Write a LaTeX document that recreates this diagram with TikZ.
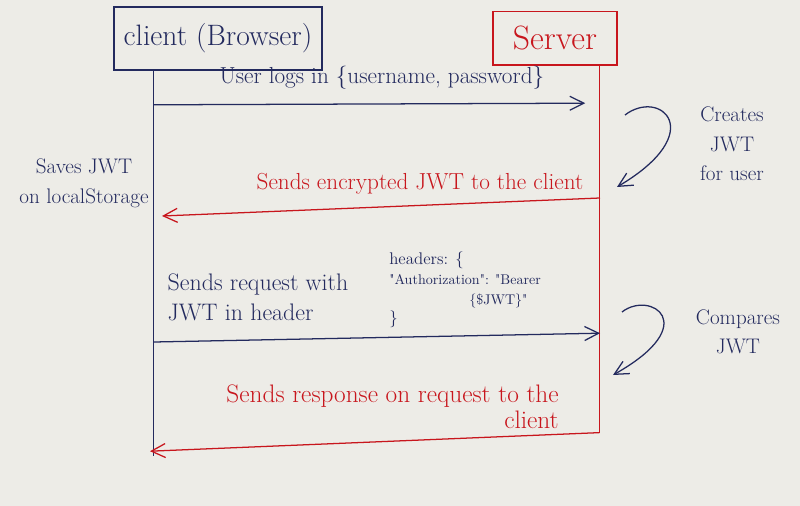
\documentclass[tikz,border=0pt]{standalone}
\usetikzlibrary{arrows.meta}
\definecolor{ink}{HTML}{232A5E}
\definecolor{redInk}{HTML}{C8161D}
\definecolor{paper}{HTML}{EDECE7}
\tikzstyle{actorBox} = [draw, line width=0.9pt, font=\fontsize{21}{25}\selectfont]
\tikzstyle{msgLabel} = [font=\fontsize{16.5}{20}\selectfont]
\tikzstyle{sideNote} = [text=ink, align=center, font=\fontsize{15}{21}\selectfont]
\tikzstyle{curlArrow} = [draw=ink, ->, line width=0.9pt]

\begin{document}
\begin{tikzpicture}[>={Straight Barb[length=3.5mm,width=3.5mm]}, line width=0.9pt]
		\useasboundingbox (0,0) rectangle (20,-12.65);
		\fill[paper] (0,0) rectangle (20,-12.65);

		\node (client) [actorBox, draw=ink, text=ink, minimum width=5.2cm, minimum height=1.575cm] at (5.45,-0.96) {client (Browser)};
		\node (server) [actorBox, draw=redInk, text=redInk, minimum width=3.1cm, minimum height=1.33cm, font=\fontsize{24}{28}\selectfont] at (13.875,-0.96) {Server};

		% Lifelines
		\path (client.south west)+(1.0,0) coordinate (clientTop);
		\path (clientTop)+(0,-9.63) coordinate (clientBottom);
		\path (server.south west)+(2.675,0) coordinate (serverTop);
		\path (serverTop)+(0,-9.175) coordinate (serverBottom);
		\path [draw, ink] (clientTop) -- (clientBottom);
		\path [draw, redInk] (serverTop) -- (serverBottom);

		% Helpers for the message ends
		\coordinate (loginStart) at (3.85,-2.62);
		\coordinate (loginEnd) at (14.63,-2.58);
		\coordinate (jwtStart) at (15.0,-4.95);
		\coordinate (jwtEnd) at (4.05,-5.4);
		\coordinate (reqStart) at (3.85,-8.55);
		\coordinate (reqEnd) at (15.0,-8.33);
		\coordinate (resEnd) at (3.75,-11.28);

		\path [draw, ->, ink] (loginStart) -- (loginEnd);
		\path [draw, ->, redInk] (jwtStart) -- (jwtEnd);
		\path [draw, ->, ink] (reqStart) -- (reqEnd);
		\path [draw, ->, redInk] (serverBottom) -- (resEnd);

		\node (loginLabel) [msgLabel, text=ink] at (9.55,-1.95) {User logs in \{username, password\}};
		\node (jwtLabel) [msgLabel, text=redInk] at (10.5,-4.6) {Sends encrypted JWT to the client};
		\node (reqLabel) [msgLabel, text=ink, align=left, font=\fontsize{17}{21}\selectfont] at (6.45,-7.43) {Sends request with\\JWT in header};
		\node (headersNote) [text=ink, align=left, anchor=west, font=\fontsize{12}{14}\selectfont] at (9.6,-7.25)
			{headers: \{\\{\fontsize{10}{14}\selectfont\textquotedbl Authorization\textquotedbl: \textquotedbl Bearer}\\{\fontsize{10}{14}\selectfont\hspace*{2.0cm}\{\$JWT\}\textquotedbl}\\\}};
		\node (resLabel) [msgLabel, text=redInk, align=right, anchor=base east, font=\fontsize{18}{21}\selectfont] at (14.1,-10.72)
			{Sends response on request to the\\[-2pt]client};

		\node (savesNote) [sideNote] at (2.1,-4.58) {Saves JWT\\on localStorage};
		\node (createsNote) [sideNote] at (18.3,-3.6) {Creates\\JWT\\for user};
		\node (comparesNote) [sideNote] at (18.45,-8.3) {Compares\\JWT};

		% Self steps on the server
		\coordinate (createStart) at (15.625,-2.875);
		\coordinate (createEnd) at (15.425,-4.675);
		\path [curlArrow] (createStart) .. controls (16.5,-2.2) and (17.75,-3.3) .. (createEnd);
		\coordinate (compareStart) at (15.55,-7.8);
		\coordinate (compareEnd) at (15.325,-9.375);
		\path [curlArrow] (compareStart) .. controls (16.25,-7.25) and (17.6,-8.1) .. (compareEnd);
	\end{tikzpicture}
\end{document}
